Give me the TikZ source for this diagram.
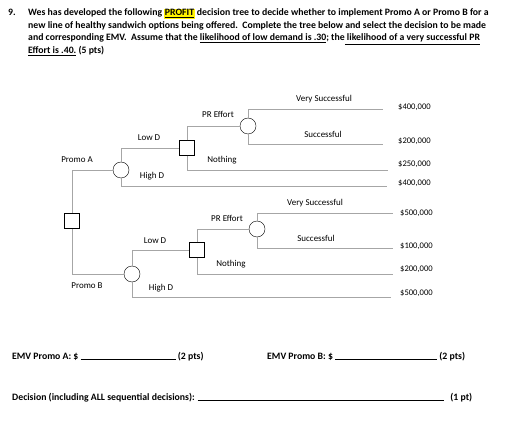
\documentclass[tikz,border=0pt]{standalone}
\usepackage{fontspec}
\setmainfont{Carlito}
\newcommand{\hlword}[1]{{\setlength{\fboxsep}{0.6pt}\colorbox{yellow}{\underline{#1}}}}
\begin{document}
\begin{tikzpicture}[x=1bp,y=-1bp,
  branch/.style={draw=gray!70,line width=0.9bp},
  chance/.style={circle,draw,thin,fill=white,minimum size=16bp,inner sep=0},
  decision/.style={rectangle,draw,thin,fill=white,minimum size=15bp,inner sep=0},
  lbl/.style={font=\fontsize{9}{10}\selectfont,inner sep=0},
  payoff/.style={font=\fontsize{8.6}{10}\selectfont,anchor=west,inner sep=0},
  head/.style={font=\fontsize{9.8}{12}\selectfont\bfseries,anchor=base west,inner sep=0}]
\useasboundingbox (0,0) rectangle (519,434);

% question text
\node[head] (qnum) at (8,16) {9.};
\node[head] (q1) at (28,16) {Wes has developed the following \hlword{PROFIT} decision tree to decide whether to implement Promo A or Promo B for a};
\node[head] (q2) at (28,28.5) {new line of healthy sandwich options being offered.\ \ Complete the tree below and select the decision to be made};
\node[head] (q3) at (28,41) {and corresponding EMV.\ \ Assume that the \underline{likelihood of low demand is .30}; the\underline{ likelihood of a very successful PR}};
\node[head] (q4) at (28,53.5) {\underline{Effort is .40.} (5 pts)};

% decision and chance nodes
\node[decision,line width=1bp] (root) at (72,221) {};
\node[chance] (chanceA) at (121,170) {};
\node[decision] (decA) at (187,148) {};
\node[chance] (prA) at (248,126) {};
\node[chance] (chanceB) at (132,274) {};
\node[decision] (decB) at (197,250) {};
\node[chance] (prB) at (257,229) {};

% branch ends
\coordinate (endAV) at (383,109);
\coordinate (endAS) at (383,144);
\coordinate (endAN) at (388,170);
\coordinate (endAH) at (387,186);
\coordinate (endBV) at (393,213);
\coordinate (endBS) at (393,248);
\coordinate (endBN) at (393,274);
\coordinate (endBH) at (391,297);

% branches
\draw[branch] (root) |- (chanceA);
\draw[branch] (chanceA) |- (decA);
\draw[branch] (chanceA) |- (endAH);
\draw[branch] (decA) |- (prA);
\draw[branch] (decA) |- (endAN);
\draw[branch] (prA) |- (endAV);
\draw[branch] (prA) |- (endAS);
\draw[branch] (root) |- (chanceB);
\draw[branch] (chanceB) |- (decB);
\draw[branch] (chanceB) |- (endBH);
\draw[branch] (decB) |- (prB);
\draw[branch] (decB) |- (endBN);
\draw[branch] (prB) |- (endBV);
\draw[branch] (prB) |- (endBS);

% branch labels
\node[lbl] (promoA) at (77,160) {Promo A};
\node[lbl] (lowA) at (149,138) {Low D};
\node[lbl] (highA) at (152,176) {High D};
\node[lbl] (prlblA) at (218,114) {PR Effort};
\node[lbl] (nothA) at (222,160) {Nothing};
\node[lbl] (veryA) at (324,99) {Very Successful};
\node[lbl] (succA) at (323,134) {Successful};
\node[lbl] (promoB) at (87,286) {Promo B};
\node[lbl] (lowB) at (155,241) {Low D};
\node[lbl] (highB) at (161,288) {High D};
\node[lbl] (prlblB) at (227,218) {PR Effort};
\node[lbl] (nothB) at (231,264) {Nothing};
\node[lbl] (veryB) at (315,203) {Very Successful};
\node[lbl] (succB) at (316,238) {Successful};

% payoffs
\node[payoff] (payAV) at (398,107) {\$400,000};
\node[payoff] (payAS) at (398,141) {\$200,000};
\node[payoff] (payAN) at (398,164) {\$250,000};
\node[payoff] (payAH) at (398,183) {\$400,000};
\node[payoff] (payBV) at (400,213) {\$500,000};
\node[payoff] (payBS) at (400,246) {\$100,000};
\node[payoff] (payBN) at (400,269) {\$200,000};
\node[payoff] (payBH) at (400,293) {\$500,000};

% answer lines
\node[head] (emvA) at (12,359) {EMV Promo A: \$ \rule[-0.8pt]{95bp}{0.5pt} (2 pts)};
\node[head] (emvB) at (267,359) {EMV Promo B: \$ \rule[-0.8pt]{102bp}{0.5pt} (2 pts)};
\node[head] (choice) at (12,400) {Decision (including ALL sequential decisions): \rule[-0.8pt]{246bp}{0.5pt}\ \ \ (1 pt)};
\end{tikzpicture}
\end{document}
